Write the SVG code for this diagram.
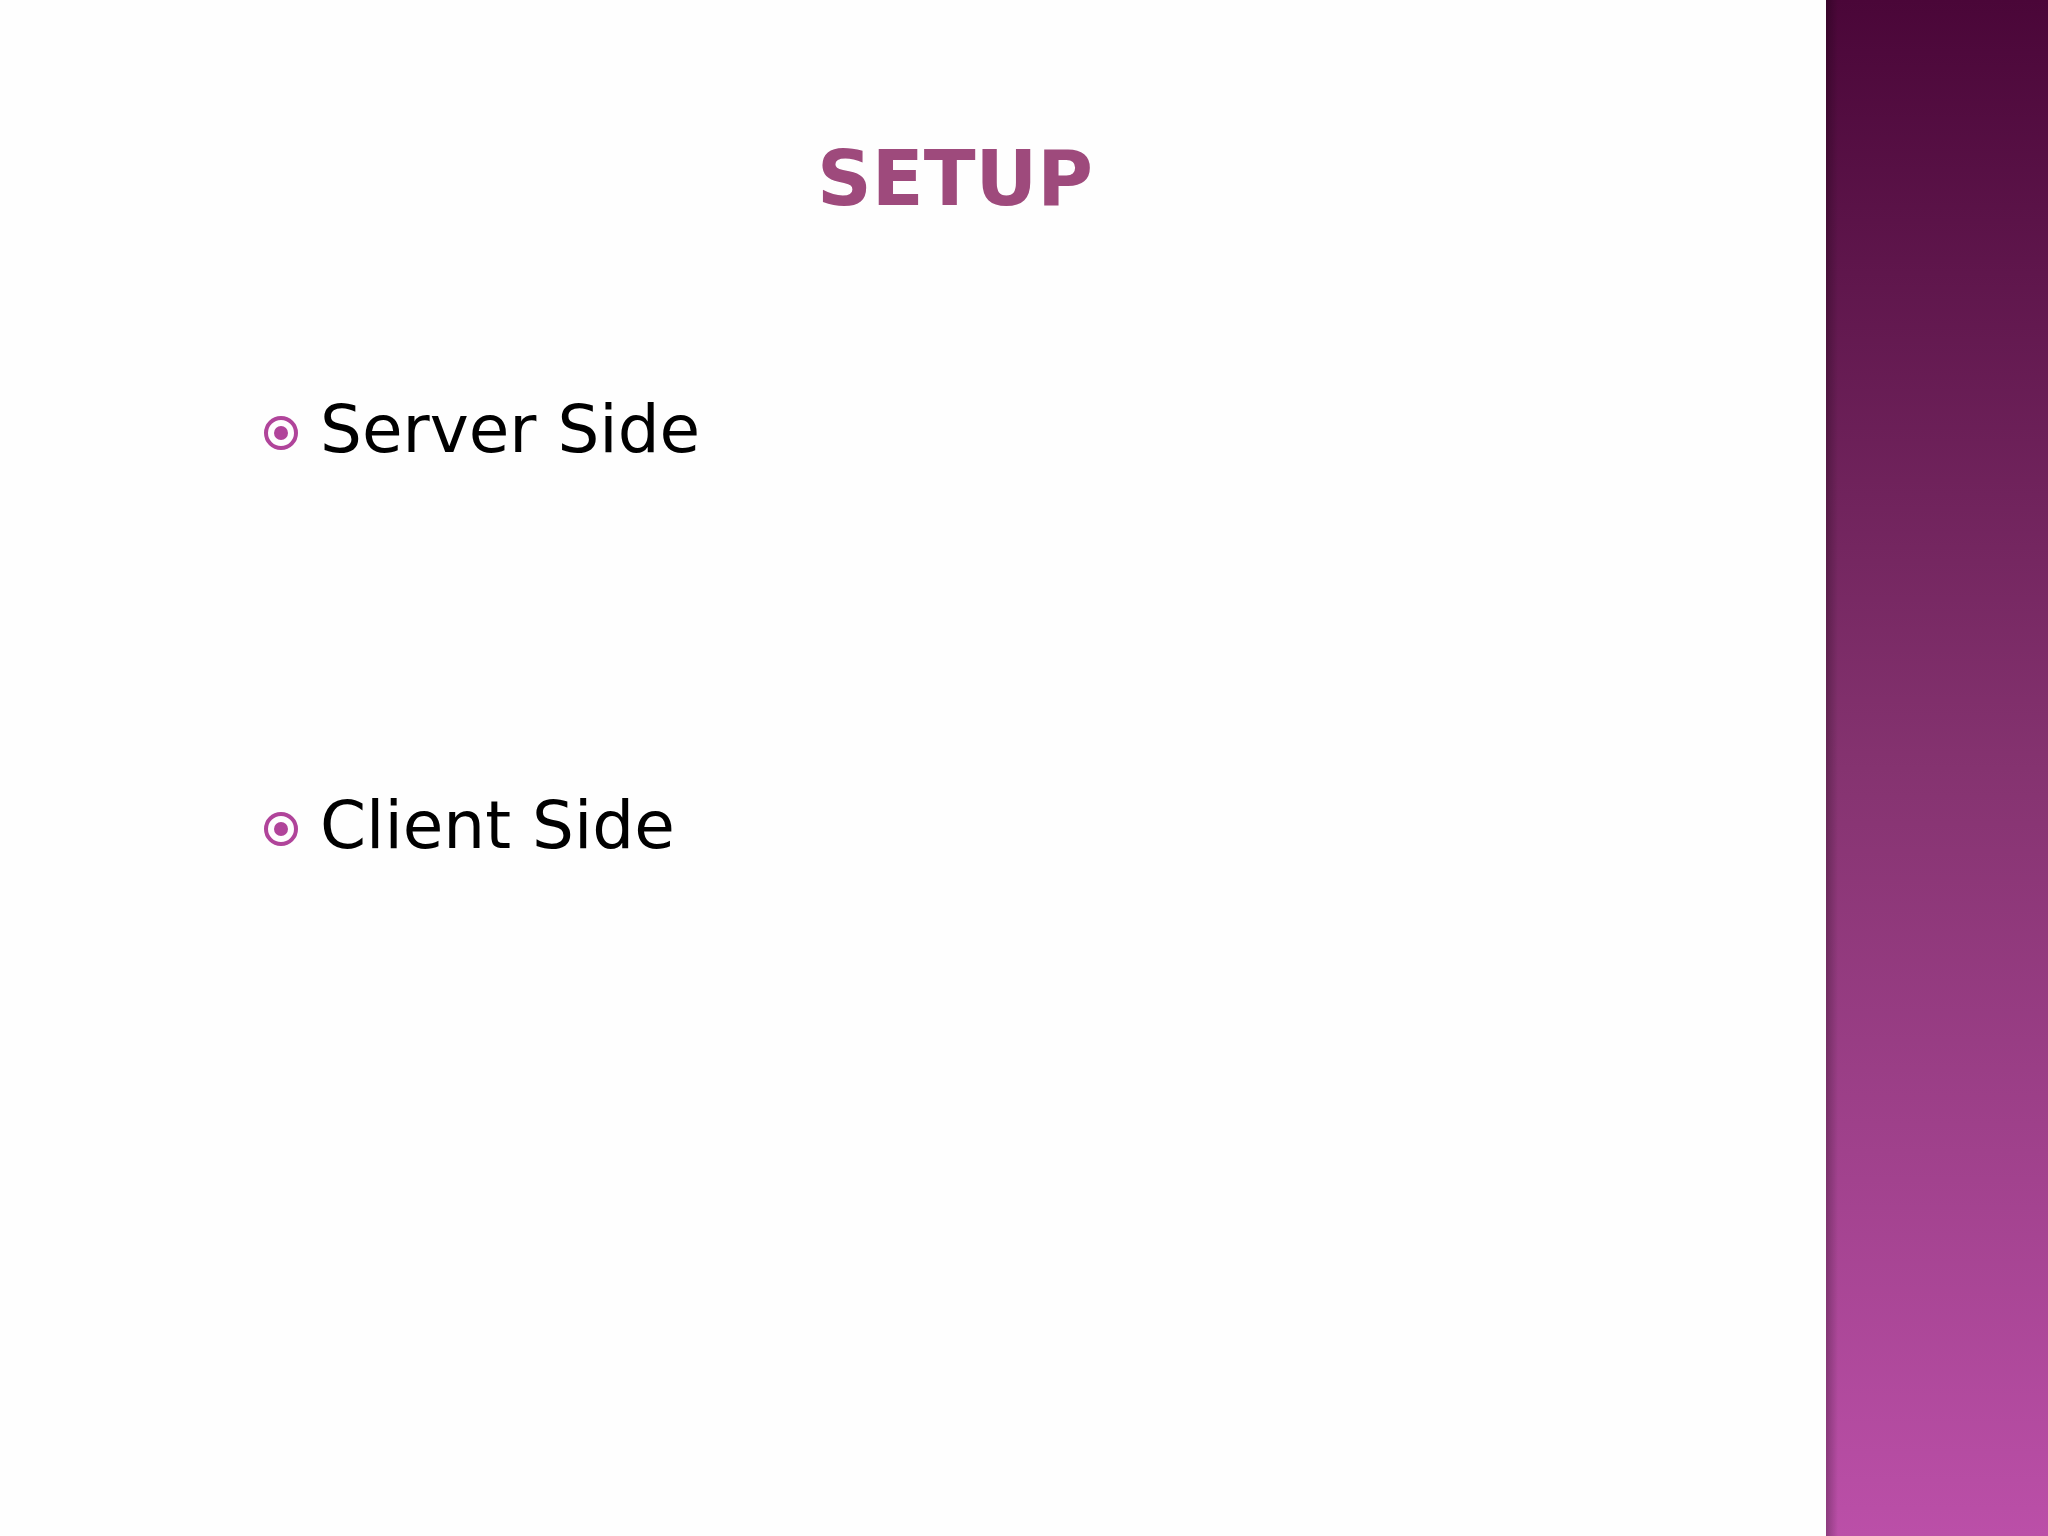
<svg xmlns="http://www.w3.org/2000/svg" width="2048" height="1536" viewBox="0 0 2048 1536">
<defs>
<linearGradient id="bar" x1="0" y1="0" x2="0" y2="1">
<stop offset="0" stop-color="#4a0638"/>
<stop offset="0.5" stop-color="#853370"/>
<stop offset="1" stop-color="#bb4fa8"/>
</linearGradient>
<linearGradient id="shade" x1="0" y1="0" x2="1" y2="0">
<stop offset="0" stop-color="#000" stop-opacity="0.25"/>
<stop offset="1" stop-color="#000" stop-opacity="0"/>
</linearGradient>
</defs>
<style>
.b{font-family:"DejaVu Sans","Liberation Sans",sans-serif;font-size:66px;fill:#000}
.t{font-family:"DejaVu Sans","Liberation Sans",sans-serif;font-size:76px;font-weight:bold;fill:#9e4a7c}
</style>
<rect width="2048" height="1536" fill="#fefefe"/>
<rect x="1826" y="0" width="222" height="1536" fill="url(#bar)"/>
<rect x="1826" y="0" width="12" height="1536" fill="url(#shade)"/>
<g id="title"><text class="t" x="955" y="205" text-anchor="middle">SETUP</text></g>
<g id="server">
<circle cx="281" cy="433" r="15" fill="none" stroke="#b0449a" stroke-width="4"/>
<circle cx="281" cy="433" r="7" fill="#b0449a"/>
<text class="b" x="320" y="452">Server Side</text>
</g>
<g id="client">
<circle cx="281" cy="829" r="15" fill="none" stroke="#b0449a" stroke-width="4"/>
<circle cx="281" cy="829" r="7" fill="#b0449a"/>
<text class="b" x="320" y="848">Client Side</text>
</g>
</svg>
